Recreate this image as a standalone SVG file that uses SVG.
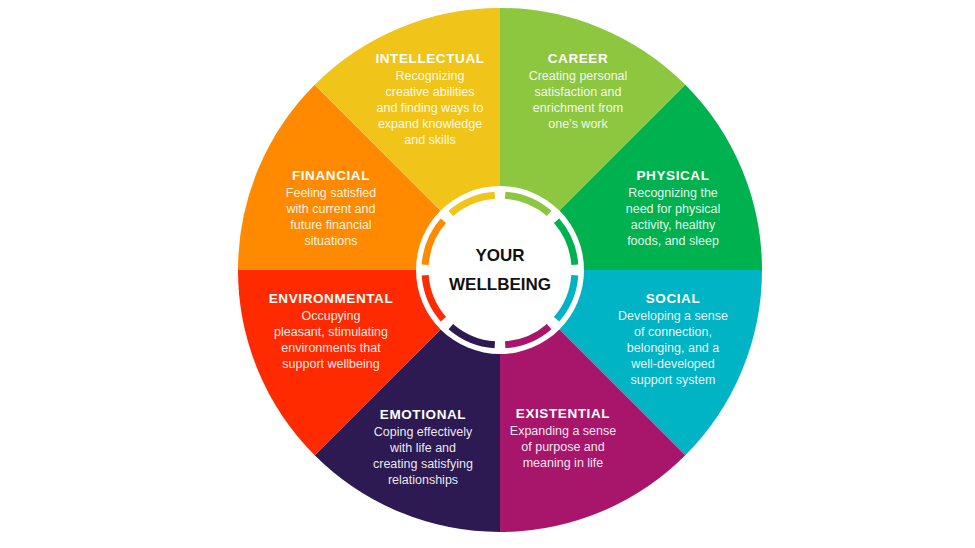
<svg xmlns="http://www.w3.org/2000/svg" width="975" height="548" viewBox="0 0 975 548">
<style>
.t{font-family:"Liberation Sans",Arial,sans-serif;font-weight:bold;font-size:13.5px;fill:#fff;text-anchor:middle;letter-spacing:0.6px}
.b{font-family:"Liberation Sans",Arial,sans-serif;font-size:12.5px;fill:#fff;fill-opacity:0.92;text-anchor:middle}
.c{font-family:"Liberation Sans",Arial,sans-serif;font-weight:bold;font-size:17px;fill:#111;text-anchor:middle}
.r{fill:none;stroke-width:7}
</style>
<rect width="975" height="548" fill="#fff"/>
<g id="career"><path d="M500,270 L500,8 A262,262 0 0 1 685.3,84.7 Z" fill="#8dc63f"/>
<text class="t" x="578" y="63">CAREER</text>
<text class="b" x="578" y="80">Creating personal</text><text class="b" x="578" y="96">satisfaction and</text><text class="b" x="578" y="112">enrichment from</text><text class="b" x="578" y="128">one’s work</text></g>
<g id="physical"><path d="M500,270 L685.3,84.7 A262,262 0 0 1 762,270 Z" fill="#00b14f"/>
<text class="t" x="673" y="180">PHYSICAL</text>
<text class="b" x="673" y="197">Recognizing the</text><text class="b" x="673" y="213">need for physical</text><text class="b" x="673" y="229">activity, healthy</text><text class="b" x="673" y="245">foods, and sleep</text></g>
<g id="social"><path d="M500,270 L762,270 A262,262 0 0 1 685.3,455.3 Z" fill="#00b3c5"/>
<text class="t" x="673" y="303">SOCIAL</text>
<text class="b" x="673" y="320">Developing a sense</text><text class="b" x="673" y="336">of connection,</text><text class="b" x="673" y="352">belonging, and a</text><text class="b" x="673" y="368">well-developed</text><text class="b" x="673" y="384">support system</text></g>
<g id="existential"><path d="M500,270 L685.3,455.3 A262,262 0 0 1 500,532 Z" fill="#a8166b"/>
<text class="t" x="563" y="418">EXISTENTIAL</text>
<text class="b" x="563" y="435">Expanding a sense</text><text class="b" x="563" y="451">of purpose and</text><text class="b" x="563" y="467">meaning in life</text></g>
<g id="emotional"><path d="M500,270 L500,532 A262,262 0 0 1 314.7,455.3 Z" fill="#2e1a52"/>
<text class="t" x="423" y="419">EMOTIONAL</text>
<text class="b" x="423" y="436">Coping effectively</text><text class="b" x="423" y="452">with life and</text><text class="b" x="423" y="468">creating satisfying</text><text class="b" x="423" y="484">relationships</text></g>
<g id="environmental"><path d="M500,270 L314.7,455.3 A262,262 0 0 1 238,270 Z" fill="#ff2a00"/>
<text class="t" x="331" y="303">ENVIRONMENTAL</text>
<text class="b" x="331" y="320">Occupying</text><text class="b" x="331" y="336">pleasant, stimulating</text><text class="b" x="331" y="352">environments that</text><text class="b" x="331" y="368">support wellbeing</text></g>
<g id="financial"><path d="M500,270 L238,270 A262,262 0 0 1 314.7,84.7 Z" fill="#ff8a00"/>
<text class="t" x="331" y="180">FINANCIAL</text>
<text class="b" x="331" y="197">Feeling satisfied</text><text class="b" x="331" y="213">with current and</text><text class="b" x="331" y="229">future financial</text><text class="b" x="331" y="245">situations</text></g>
<g id="intellectual"><path d="M500,270 L314.7,84.7 A262,262 0 0 1 500,8 Z" fill="#f0c419"/>
<text class="t" x="430" y="63">INTELLECTUAL</text>
<text class="b" x="430" y="80">Recognizing</text><text class="b" x="430" y="96">creative abilities</text><text class="b" x="430" y="112">and finding ways to</text><text class="b" x="430" y="128">expand knowledge</text><text class="b" x="430" y="144">and skills</text></g>
<g id="center">
<circle cx="500" cy="270" r="84" fill="#fff"/>
<g id="connectors">
<path class="r" stroke="#8dc63f" d="M505.2,195.2 A75,75 0 0 1 549.2,213.4"/>
<path class="r" stroke="#00b14f" d="M556.6,220.8 A75,75 0 0 1 574.8,264.8"/>
<path class="r" stroke="#00b3c5" d="M574.8,275.2 A75,75 0 0 1 556.6,319.2"/>
<path class="r" stroke="#a8166b" d="M549.2,326.6 A75,75 0 0 1 505.2,344.8"/>
<path class="r" stroke="#2e1a52" d="M494.8,344.8 A75,75 0 0 1 450.8,326.6"/>
<path class="r" stroke="#ff2a00" d="M443.4,319.2 A75,75 0 0 1 425.2,275.2"/>
<path class="r" stroke="#ff8a00" d="M425.2,264.8 A75,75 0 0 1 443.4,220.8"/>
<path class="r" stroke="#f0c419" d="M450.8,213.4 A75,75 0 0 1 494.8,195.2"/>
</g>
<circle cx="500" cy="270" r="70" fill="#fff"/>
<text class="c" x="500" y="261">YOUR</text>
<text class="c" x="500" y="290">WELLBEING</text>
</g>
</svg>
